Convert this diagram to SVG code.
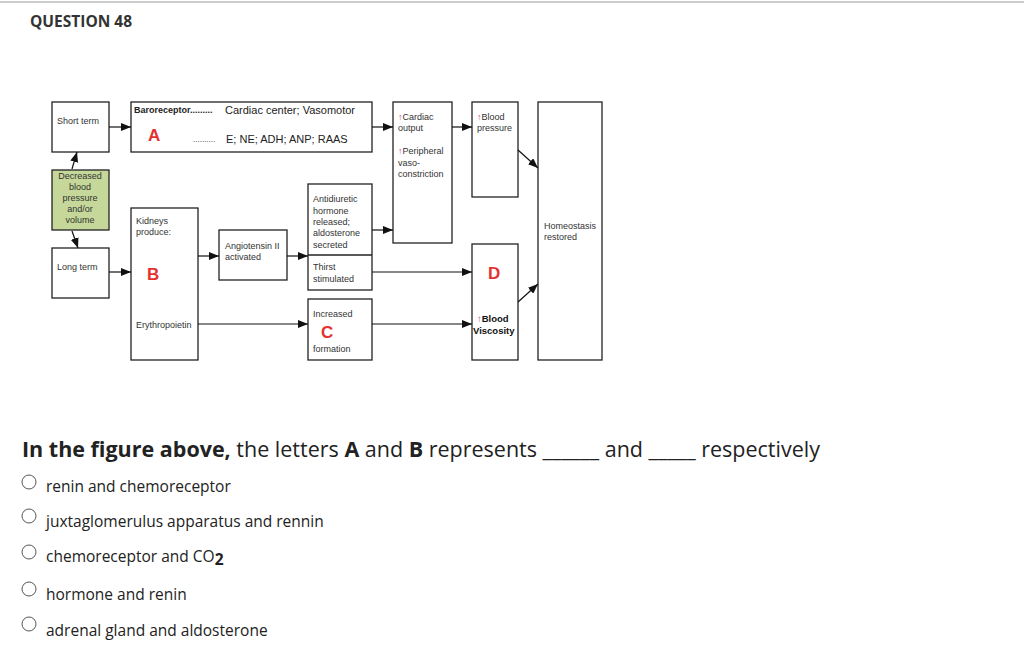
<svg xmlns="http://www.w3.org/2000/svg" width="1024" height="670" viewBox="0 0 1024 670">
<defs>
<marker id="ah" markerWidth="10" markerHeight="8" refX="10" refY="4" orient="auto" markerUnits="userSpaceOnUse"><path d="M0,0 L10,4 L0,8 z" fill="#111"/></marker>
<style>
.b{fill:#fff;stroke:#222;stroke-width:1.3}
.t{font-family:"Liberation Sans",Arial,sans-serif;font-size:9px;fill:#333}
.L{font-family:"Liberation Sans",Arial,sans-serif;font-size:17px;font-weight:bold;fill:#e53030}
.c{stroke:#111;stroke-width:1.2;fill:none;marker-end:url(#ah)}
.o{font-family:"Open Sans",sans-serif;font-size:15.5px;fill:#222}
.r{fill:#fff;stroke:#555;stroke-width:1}
.up{fill:#c0507a}
</style>
</defs>
<rect width="1024" height="670" fill="#fff"/>
<line x1="0" y1="2" x2="1024" y2="2" stroke="#ccc" stroke-width="2"/>
<text x="30" y="27" font-family="'Open Sans',sans-serif" font-size="15.5" font-weight="bold" fill="#333">QUESTION 48</text>

<g id="short"><rect class="b" x="52" y="102" width="57" height="50"/><text class="t" x="57" y="124">Short term</text></g>
<g id="boxA"><rect class="b" x="131" y="102" width="241" height="50"/>
<text x="134" y="113" font-family="'Liberation Sans',Arial,sans-serif" font-size="9" font-weight="bold" fill="#222">Baroreceptor.........</text>
<text x="225" y="114" font-family="'Liberation Sans',Arial,sans-serif" font-size="11" fill="#222">Cardiac center; Vasomotor</text>
<text class="L" x="148" y="141">A</text>
<text x="193" y="142" font-family="'Liberation Sans',Arial,sans-serif" font-size="8" fill="#222">..........</text>
<text x="226" y="143" font-family="'Liberation Sans',Arial,sans-serif" font-size="11" fill="#222">E; NE; ADH; ANP; RAAS</text></g>
<g id="decreased"><rect x="52" y="170" width="57" height="60" fill="#c5d89a" stroke="#222" stroke-width="1.3"/>
<text class="t" text-anchor="middle"><tspan x="80" y="179">Decreased</tspan><tspan x="80" y="190">blood</tspan><tspan x="80" y="201">pressure</tspan><tspan x="80" y="212">and/or</tspan><tspan x="80" y="223">volume</tspan></text></g>
<g id="long"><rect class="b" x="52" y="248" width="57" height="50"/><text class="t" x="57" y="270">Long term</text></g>
<g id="kidneys"><rect class="b" x="131" y="208" width="67" height="152"/>
<text class="t"><tspan x="136" y="224">Kidneys</tspan><tspan x="136" y="235">produce:</tspan></text>
<text class="L" x="147" y="280">B</text>
<text class="t" x="136" y="328">Erythropoietin</text></g>
<g id="angio"><rect class="b" x="219" y="230" width="68" height="50"/><text class="t"><tspan x="225" y="249">Angiotensin II</tspan><tspan x="225" y="260">activated</tspan></text></g>
<g id="adh"><rect class="b" x="308" y="184" width="64" height="106"/><line x1="308" y1="255" x2="372" y2="255" stroke="#222" stroke-width="1.3"/>
<text class="t"><tspan x="313" y="202">Antidiuretic</tspan><tspan x="313" y="214">hormone</tspan><tspan x="313" y="225">released;</tspan><tspan x="313" y="236">aldosterone</tspan><tspan x="313" y="248">secreted</tspan><tspan x="313" y="270">Thirst</tspan><tspan x="313" y="282">stimulated</tspan></text></g>
<g id="boxC"><rect class="b" x="308" y="299" width="64" height="61"/><text class="t" x="313" y="317">Increased</text><text class="L" x="321" y="338">C</text><text class="t" x="313" y="352">formation</text></g>
<g id="cardiac"><rect class="b" x="393" y="102" width="59" height="141"/>
<text class="t"><tspan x="398" y="120"><tspan class="up">↑</tspan>Cardiac</tspan><tspan x="398" y="131">output</tspan><tspan x="398" y="154"><tspan class="up">↑</tspan>Peripheral</tspan><tspan x="398" y="166">vaso-</tspan><tspan x="398" y="177">constriction</tspan></text></g>
<g id="bp"><rect class="b" x="472" y="102" width="46" height="95"/><text class="t"><tspan x="477" y="120"><tspan class="up">↑</tspan>Blood</tspan><tspan x="477" y="131">pressure</tspan></text></g>
<g id="boxD"><rect class="b" x="472" y="244" width="46" height="116"/><text class="L" x="488" y="279">D</text>
<text font-family="'Liberation Sans',Arial,sans-serif" font-size="9.5" font-weight="bold" fill="#111"><tspan x="477" y="322"><tspan class="up" font-weight="normal">↑</tspan>Blood</tspan><tspan x="473" y="334">Viscosity</tspan></text></g>
<g id="homeo"><rect class="b" x="538" y="102" width="64" height="258"/><text class="t"><tspan x="544" y="229">Homeostasis</tspan><tspan x="544" y="240">restored</tspan></text></g>

<g id="connectors">
<line class="c" x1="109" y1="127" x2="131" y2="127"/>
<line class="c" x1="372" y1="127" x2="393" y2="127"/>
<line class="c" x1="452" y1="127" x2="472" y2="127"/>
<line class="c" x1="72" y1="169" x2="77" y2="152"/>
<line class="c" x1="72" y1="231" x2="78" y2="248"/>
<line class="c" x1="109" y1="272" x2="131" y2="272"/>
<line class="c" x1="198" y1="256" x2="219" y2="256"/>
<line class="c" x1="287" y1="256" x2="308" y2="256"/>
<line class="c" x1="372" y1="230" x2="393" y2="230"/>
<line class="c" x1="372" y1="272" x2="472" y2="272"/>
<line class="c" x1="198" y1="324" x2="308" y2="324"/>
<line class="c" x1="372" y1="324" x2="472" y2="324"/>
<line class="c" x1="518" y1="150" x2="538" y2="168"/>
<line class="c" x1="518" y1="302" x2="538" y2="284"/>
</g>

<text x="22" y="457" font-family="'Open Sans',sans-serif" font-size="21.5" fill="#222"><tspan font-weight="bold">In the figure above,</tspan> the letters <tspan font-weight="bold">A</tspan> and <tspan font-weight="bold">B</tspan> represents ______ and _____ respectively</text>
<circle class="r" cx="29" cy="482" r="7"/><text class="o" x="46" y="492">renin and chemoreceptor</text>
<circle class="r" cx="29" cy="516" r="7"/><text class="o" x="46" y="527">juxtaglomerulus apparatus and rennin</text>
<circle class="r" cx="29" cy="552" r="7"/><text class="o" x="46" y="562">chemoreceptor and CO<tspan font-weight="bold" dy="3">2</tspan></text>
<circle class="r" cx="29" cy="589" r="7"/><text class="o" x="46" y="600">hormone and renin</text>
<circle class="r" cx="29" cy="624" r="7"/><text class="o" x="46" y="636">adrenal gland and aldosterone</text>
</svg>
